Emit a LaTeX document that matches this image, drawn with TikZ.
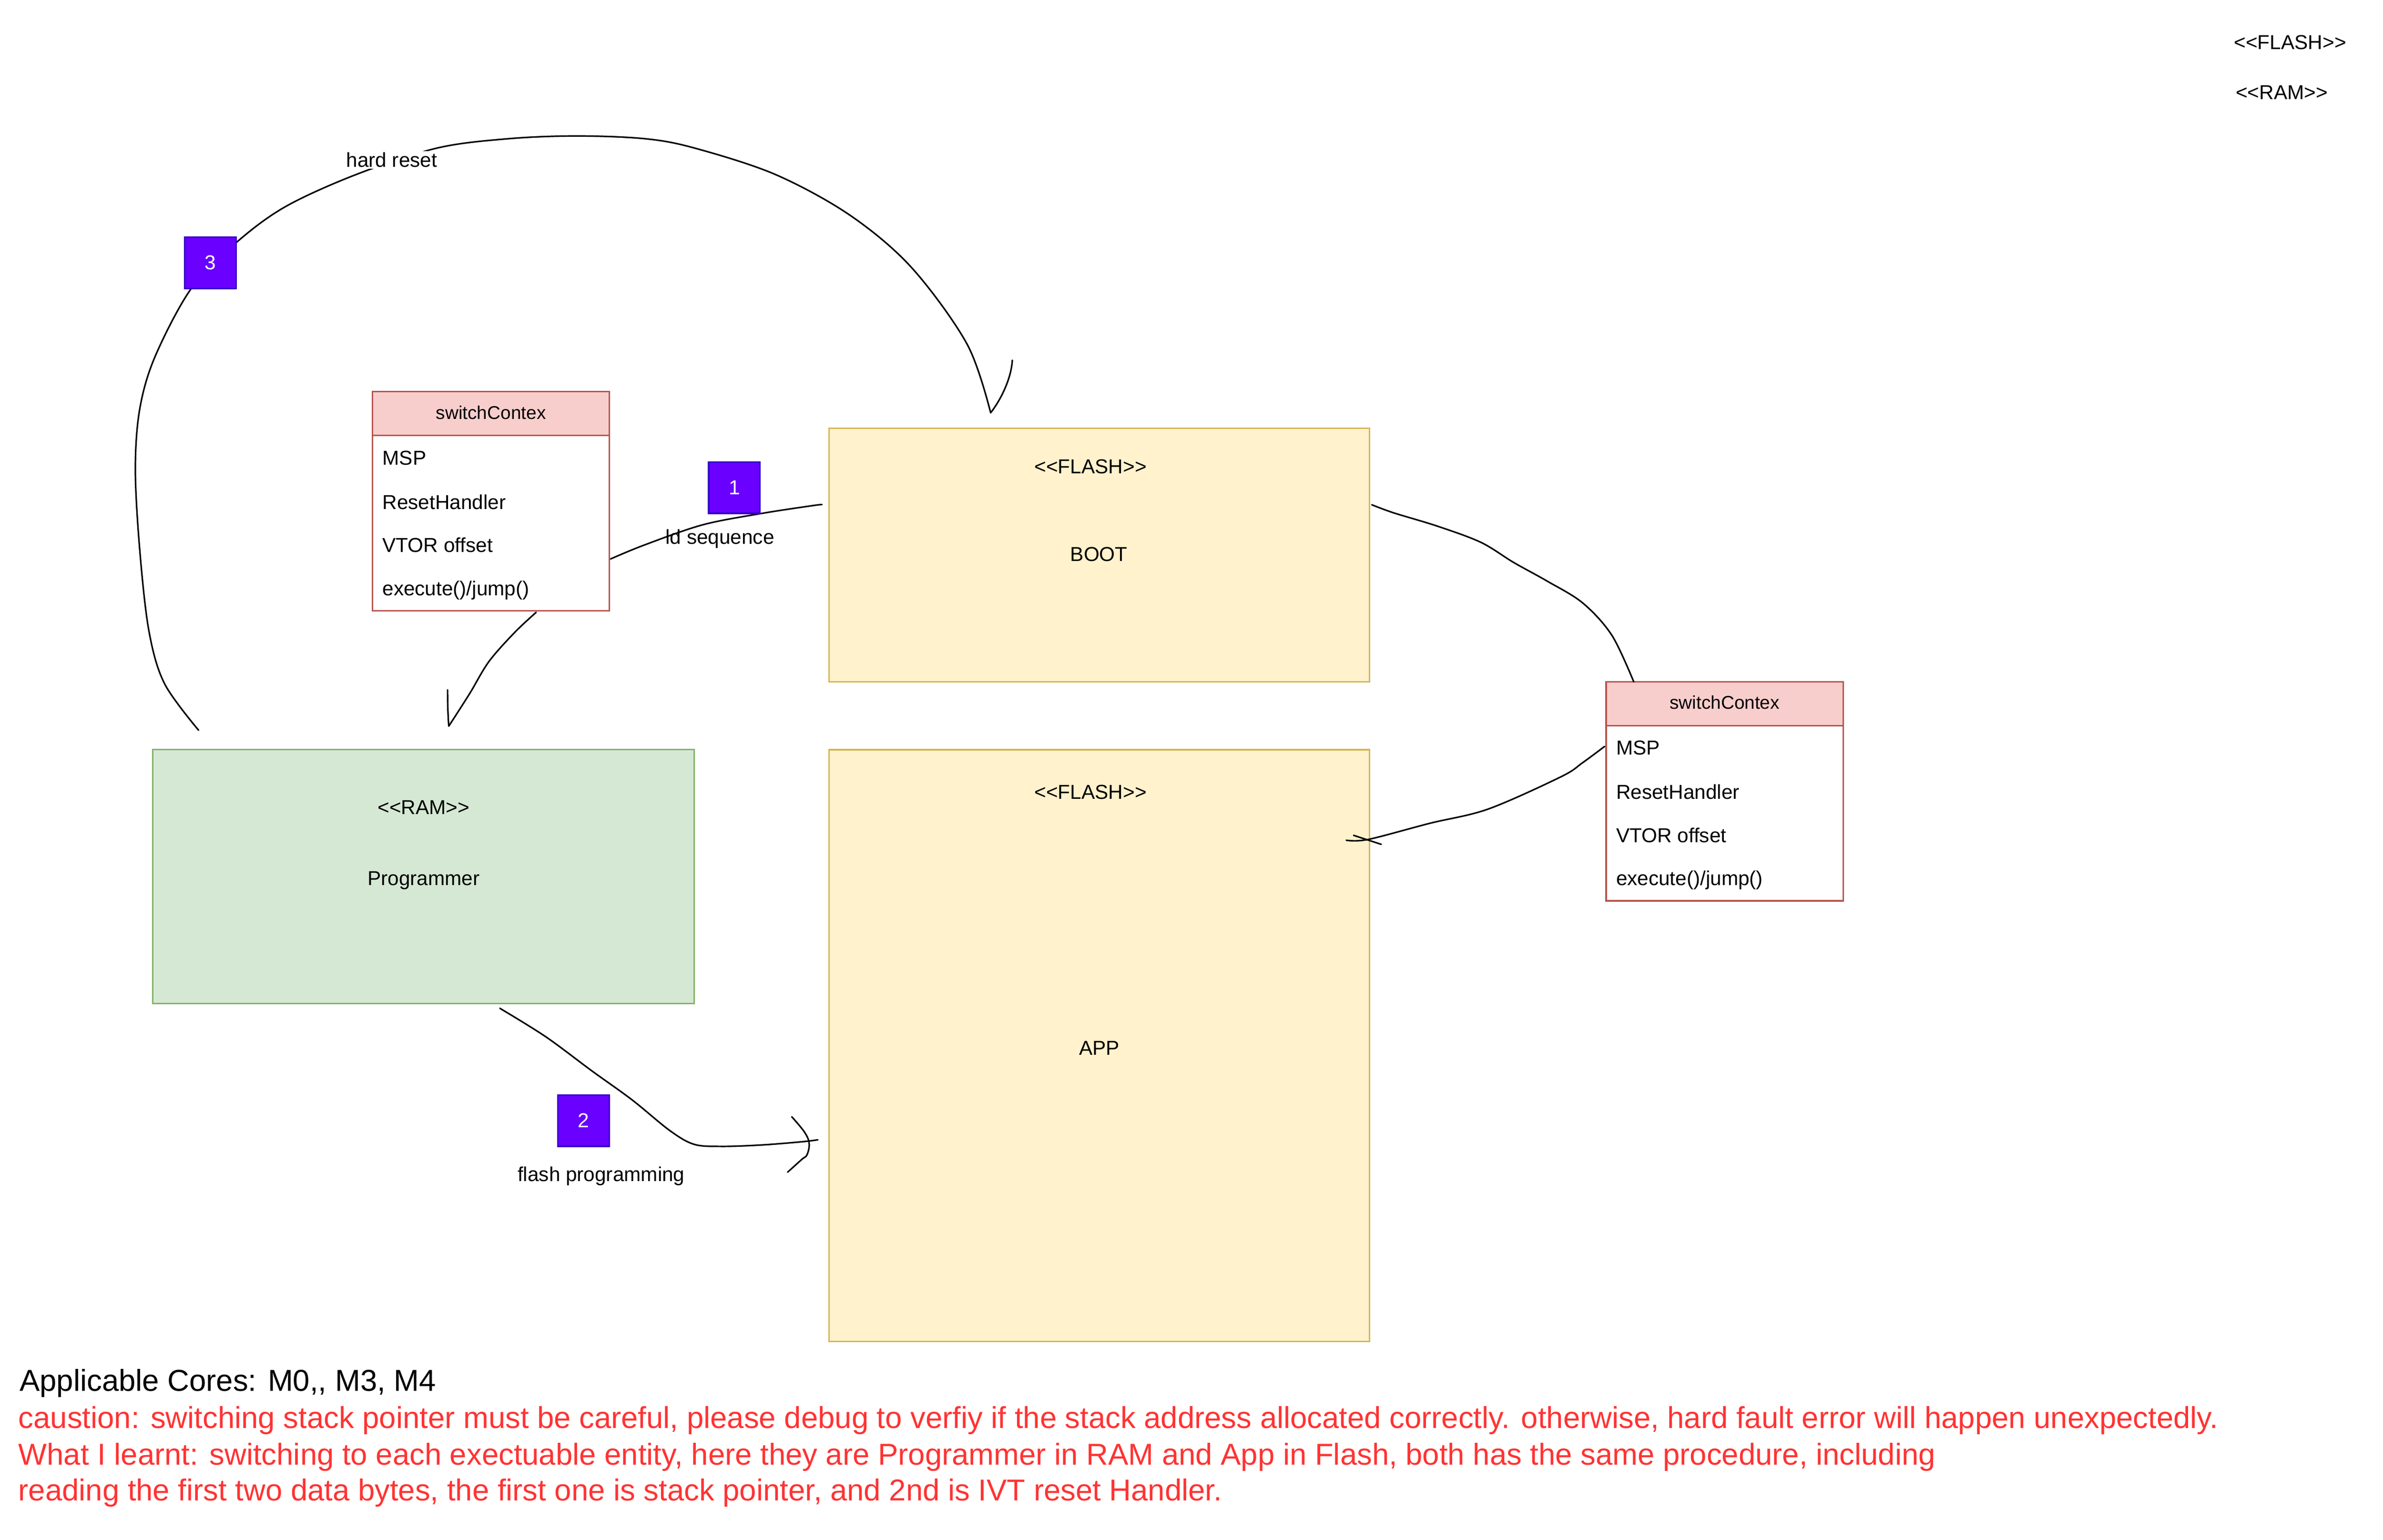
\documentclass[tikz,border=0pt]{standalone}
\usepackage{fontspec}
\setmainfont{Liberation Sans}[Ligatures=TeXOff]
\definecolor{flashfill}{HTML}{FFF2CC}
\definecolor{flashdraw}{HTML}{D6B656}
\definecolor{ramfill}{HTML}{D5E8D4}
\definecolor{ramdraw}{HTML}{82B366}
\definecolor{scfill}{HTML}{F8CECC}
\definecolor{scdraw}{HTML}{B85450}
\definecolor{badgefill}{HTML}{6A00FF}
\definecolor{badgedraw}{HTML}{3700CC}
\definecolor{notered}{HTML}{FF3333}
\tikzset{
  flashbox/.style={rectangle, draw=flashdraw, fill=flashfill, line width=1pt, minimum width=353.8pt, inner sep=0pt},
  rambox/.style={rectangle, draw=ramdraw, fill=ramfill, line width=1pt, minimum width=354.4pt, minimum height=166.4pt, inner sep=0pt},
  schead/.style={rectangle, draw=scdraw, fill=scfill, line width=1pt, minimum width=155.2pt, minimum height=28.7pt, inner sep=0pt},
  scbody/.style={rectangle, draw=scdraw, fill=white, line width=1pt, minimum width=155.2pt, minimum height=114.7pt, inner sep=0pt},
  badge/.style={rectangle, draw=badgedraw, fill=badgefill, line width=1pt, minimum size=33.6pt, inner sep=0pt, text=white, font=\fontsize{13.2}{15}\selectfont},
  txt/.style={inner sep=0pt, font=\fontsize{13.2}{15}\selectfont},
  hdtxt/.style={inner sep=0pt, font=\fontsize{12.1}{14}\selectfont},
  note/.style={inner sep=0pt, anchor=base west, font=\fontsize{19.8}{24}\selectfont},
  conn/.style={draw=black, line width=1pt, line cap=round, line join=round},
}
\begin{document}
\begin{tikzpicture}[x=1pt, y=-1pt]
\useasboundingbox[fill=white] (0,0) rectangle (1560,1008);

% memory blocks
\node[flashbox, minimum height=165.9pt] (boot) at (719.6,363.35) {};
\node[flashbox, minimum height=387.2pt] (app) at (719.6,684.4) {};
\node[rambox] (prog) at (277.1,573.8) {};

\node[txt, anchor=base] (bootst) at (713.9,310.0) {<<FLASH>>};
\node[txt, anchor=base] (bootname) at (719.4,367.5) {BOOT};
\node[txt, anchor=base] (appst) at (713.9,523.1) {<<FLASH>>};
\node[txt, anchor=base] (appname) at (719.6,690.5) {APP};
\node[txt, anchor=base] (progst) at (277.3,532.9) {<<RAM>>};
\node[txt, anchor=base] (progname) at (277.3,579.5) {Programmer};

% switch context boxes
\node[schead] (sc1h) at (321.4,270.75) {};
\node[scbody] (sc1) at (321.4,342.45) {};
\node[hdtxt, anchor=base] (sc1t) at (321.4,274.3) {switchContex};
\node[txt, anchor=base west] (sc1a) at (250.2,304.3) {MSP};
\node[txt, anchor=base west] (sc1b) at (250.2,333.3) {ResetHandler};
\node[txt, anchor=base west] (sc1c) at (250.2,361.5) {VTOR offset};
\node[txt, anchor=base west] (sc1d) at (250.2,389.7) {execute()/jump()};

\node[schead] (sc2h) at (1129.0,460.65) {};
\node[scbody] (sc2) at (1129.0,532.35) {};
\node[hdtxt, anchor=base] (sc2t) at (1129.0,464.2) {switchContex};
\node[txt, anchor=base west] (sc2a) at (1057.8,494.2) {MSP};
\node[txt, anchor=base west] (sc2b) at (1057.8,523.2) {ResetHandler};
\node[txt, anchor=base west] (sc2c) at (1057.8,551.4) {VTOR offset};
\node[txt, anchor=base west] (sc2d) at (1057.8,579.6) {execute()/jump()};

% free ends of the sketched connectors
\coordinate (hrS) at (130.0,478.0);
\coordinate (hrE) at (648.5,270.2);
\coordinate (ldS) at (399.7,365.9);
\coordinate (ldE) at (538.1,330.3);
\coordinate (jpS) at (351.0,400.8);
\coordinate (jpE) at (293.8,475.3);
\coordinate (bsS) at (898.0,330.4);
\coordinate (bsE) at (1069.5,446.3);
\coordinate (saS) at (1050.4,488.6);
\coordinate (saE) at (881.3,550.0);
\coordinate (fpS) at (327.2,660.0);
\coordinate (fpE) at (535.4,746.1);

% hard reset (Programmer -> BOOT)
\draw[conn] plot[smooth, tension=0.55] coordinates {(hrS) (107.7,447.5) (97.5,413.1) (91.5,360.2) (88.6,307.3) (91.5,267.6) (101.6,233.2) (125.1,189.0) (154.3,159.1) (186.8,135.3) (233.5,114.1) (286.2,96.9) (332.9,90.8) (377.5,89.0) (422.1,90.8) (454.6,96.9) (507.3,114.1) (556.0,140.6) (596.6,175.0) (633.1,225.3) (hrE)};
\draw[conn] (hrE) .. controls (655,262) and (662,248) .. (662.7,235.8);

% ld sequence (switchContex -> BOOT)
\draw[conn] plot[smooth, tension=0.55] coordinates {(ldS) (421.7,356.8) (459.8,343.6) (497.9,336.2) (531.8,331.0) (ldE)};

% switchContex -> Programmer
\draw[conn] plot[smooth, tension=0.55] coordinates {(jpS) (337.0,413.9) (320.1,433.0) (307.4,454.1) (jpE)};
\draw[conn] (jpE) .. controls (293.2,468) and (293.0,460) .. (293.0,451.6);

% BOOT -> switchContex
\draw[conn] plot[smooth, tension=0.55] coordinates {(bsS) (912.3,335.7) (940.9,344.4) (969.4,355.0) (990.9,368.2) (1012.3,380.1) (1036.1,394.7) (1055.2,415.9) (bsE)};

% switchContex -> APP
\draw[conn] plot[smooth, tension=0.55] coordinates {(saS) (1036.1,499.2) (1021.8,508.5) (974.2,529.6) (936.1,538.9) (895.6,549.5) (saE)};
\draw[conn] (886.1,546.8) -- (904.2,552.7);

% flash programming (Programmer -> APP)
\draw[conn] plot[smooth, tension=0.55] coordinates {(fpS) (357.2,678.6) (387.2,700.8) (413.7,719.9) (438.4,740.0) (454.2,749.0) (471.9,750.4) (498.3,749.5) (524.8,747.4) (fpE)};
\draw[conn] plot[smooth, tension=0.6] coordinates {(518.3,731.0) (526.6,741.0) (529.7,748.4) (528.3,755.9) (524.8,759.0) (515.6,767.3)};

% labels
\node[txt, anchor=base west, fill=white, inner sep=1pt] (lblhr) at (225.5,109.4) {hard reset};
\node[txt, anchor=base west] (lblld) at (435.5,356.2) {ld sequence};
\node[txt, anchor=base west] (lblfp) at (338.7,773.3) {flash programming};

% step badges
\node[badge] (b1) at (480.75,319.2) {1};
\node[badge] (b2) at (382.1,733.55) {2};
\node[badge] (b3) at (137.75,172.05) {3};

% legend top right
\node[txt, anchor=base west] (lgf) at (1462.3,32.3) {<<FLASH>>};
\node[txt, anchor=base west] (lgr) at (1463.4,65.0) {<<RAM>>};

% notes
\node[note] (n1) at (12.7,910.5) {Applicable Cores: M0,, M3, M4};
\node[note, text=notered] (n2) at (11.9,934.9) {caustion: switching stack pointer must be careful, please debug to verfiy if the stack address allocated correctly. otherwise, hard fault error will happen unexpectedly.};
\node[note, text=notered] (n3) at (11.9,958.9) {What I learnt: switching to each exectuable entity, here they are Programmer in RAM and App in Flash, both has the same procedure, including};
\node[note, text=notered] (n4) at (11.9,982.2) {reading the first two data bytes, the first one is stack pointer, and 2nd is IVT reset Handler.};
\end{tikzpicture}
\end{document}
